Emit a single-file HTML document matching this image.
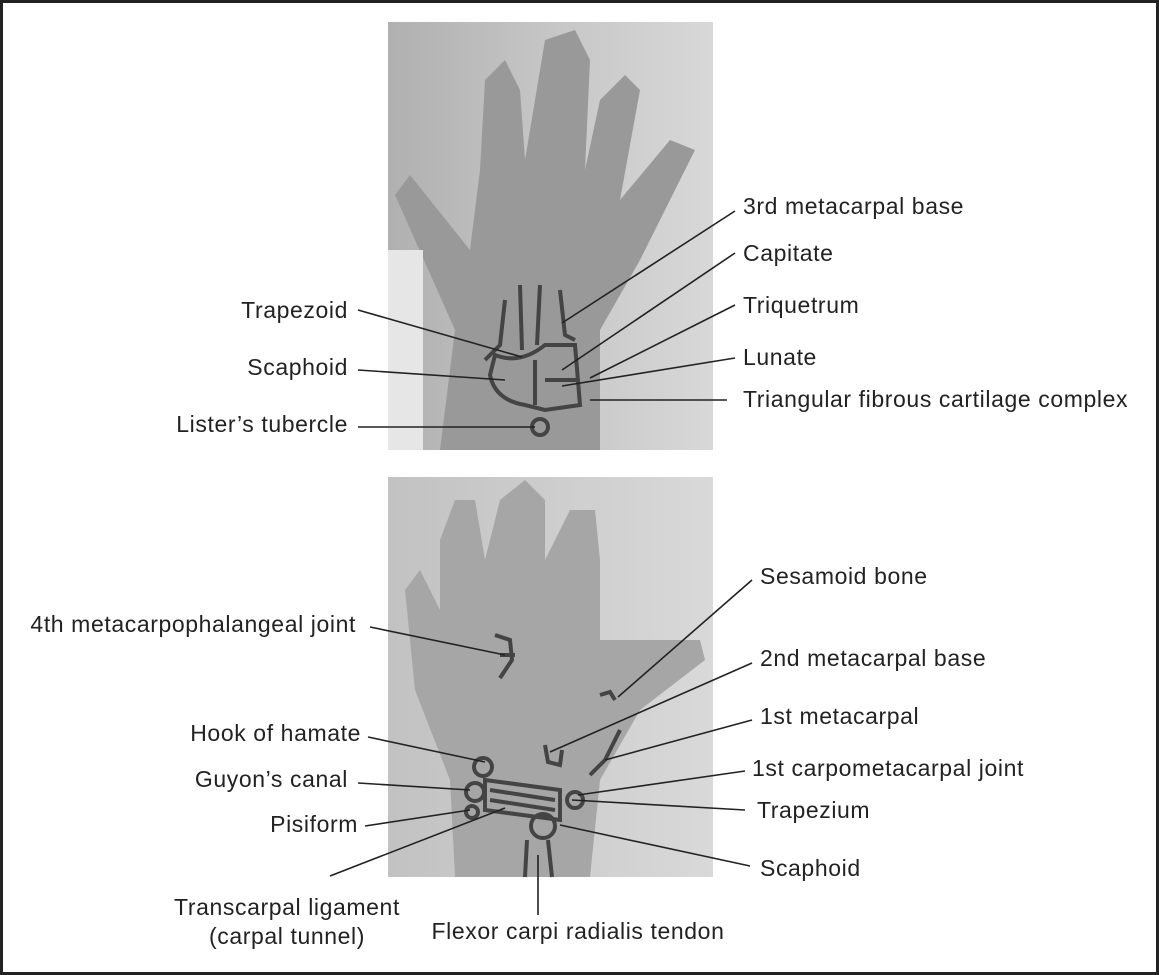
<!DOCTYPE html>
<html><head><style>
html,body{margin:0;padding:0;background:#fff;}
svg{display:block;}
text{font-family:"Liberation Sans",Arial,sans-serif;font-size:23px;letter-spacing:0.6px;fill:#222;}
</style></head><body>
<svg width="1159" height="975" viewBox="0 0 1159 975">
<rect x="1.5" y="1.5" width="1156" height="972" fill="#fff" stroke="#222" stroke-width="3"/>
<defs>
<linearGradient id="g1" x1="0" y1="0" x2="1" y2="0">
<stop offset="0" stop-color="#b0b0b0"/><stop offset="0.5" stop-color="#c6c6c6"/><stop offset="1" stop-color="#d8d8d8"/></linearGradient>
<linearGradient id="g2" x1="0" y1="0" x2="1" y2="0">
<stop offset="0" stop-color="#c2c2c2"/><stop offset="0.5" stop-color="#cdcdcd"/><stop offset="1" stop-color="#d9d9d9"/></linearGradient>
</defs>
<rect x="388" y="22" width="325" height="428" fill="url(#g1)"/>
<g fill="#999">
<path d="M440 450 L455 330 L395 195 L410 175 L470 250 L480 170 L485 80 L505 60 L520 90 L525 160 L545 40 L575 30 L590 60 L585 170 L600 100 L625 75 L640 90 L620 200 L670 140 L695 150 L640 260 L600 330 L600 450 Z"/>
</g>
<rect x="388" y="250" width="35" height="200" fill="#e6e6e6"/>
<g fill="none" stroke="#444" stroke-width="4">
<path d="M505 300 L500 345 L485 360 M520 285 L522 350 M540 285 L537 345 M560 290 L565 335 L575 340"/>
<path d="M495 355 Q520 365 545 345 L575 345 L580 405 L545 410 L525 405 Q495 400 490 375 Z"/>
<path d="M535 360 L535 405 M545 380 L578 380"/>
<circle cx="540" cy="427" r="8"/>
</g>
<rect x="388" y="477" width="325" height="400" fill="url(#g2)"/>
<g fill="#a6a6a6">
<path d="M455 877 L450 780 L415 690 L405 590 L420 570 L440 610 L440 540 L455 500 L475 500 L485 560 L500 500 L525 480 L545 500 L545 560 L570 510 L595 510 L600 560 L600 640 L660 640 L700 640 L705 660 L640 710 L600 780 L590 877 Z"/>
</g>
<g fill="none" stroke="#444" stroke-width="4">
<path d="M495 635 L510 640 L512 660 L500 678 M500 655 L515 655"/>
<path d="M545 745 L548 762 L560 765 L562 750"/>
<path d="M600 695 L610 692 L615 700 M620 730 L605 760 L590 775"/>
<circle cx="483" cy="767" r="9"/><circle cx="475" cy="792" r="9"/><circle cx="472" cy="812" r="6"/>
<path d="M485 780 L560 790 L560 820 L485 810 Z"/>
<path d="M490 790 L555 800 M490 800 L555 810"/>
<circle cx="543" cy="826" r="12"/><circle cx="575" cy="800" r="8"/>
<path d="M527 840 L525 877 M548 840 L552 877"/>
</g>
<g stroke="#222" stroke-width="1.6" fill="none">
<line x1="735" y1="211" x2="562" y2="323"/>
<line x1="735" y1="253" x2="562" y2="370"/>
<line x1="735" y1="305" x2="590" y2="378"/>
<line x1="735" y1="358" x2="562" y2="386"/>
<line x1="727" y1="400" x2="590" y2="400"/>
<line x1="358" y1="310" x2="522" y2="357"/>
<line x1="358" y1="370" x2="505" y2="380"/>
<line x1="358" y1="427" x2="535" y2="427"/>
<line x1="752" y1="580" x2="618" y2="697"/>
<line x1="370" y1="627" x2="505" y2="655"/>
<line x1="752" y1="663" x2="550" y2="752"/>
<line x1="752" y1="720" x2="605" y2="760"/>
<line x1="745" y1="771" x2="578" y2="795"/>
<line x1="745" y1="810" x2="572" y2="800"/>
<line x1="750" y1="866" x2="560" y2="825"/>
<line x1="368" y1="737" x2="485" y2="762"/>
<line x1="358" y1="783" x2="470" y2="790"/>
<line x1="365" y1="826" x2="470" y2="810"/>
<line x1="330" y1="876" x2="505" y2="808"/>
<line x1="538" y1="915" x2="538" y2="855"/>
</g>
<g>
<text x="743" y="214">3rd metacarpal base</text>
<text x="743" y="261">Capitate</text>
<text x="743" y="313">Triquetrum</text>
<text x="743" y="365">Lunate</text>
<text x="743" y="407">Triangular fibrous cartilage complex</text>
<text x="348" y="318" text-anchor="end">Trapezoid</text>
<text x="348" y="375" text-anchor="end">Scaphoid</text>
<text x="348" y="432" text-anchor="end">Lister’s tubercle</text>
<text x="760" y="584">Sesamoid bone</text>
<text x="356" y="632" text-anchor="end">4th metacarpophalangeal joint</text>
<text x="760" y="666">2nd metacarpal base</text>
<text x="760" y="724">1st metacarpal</text>
<text x="752" y="776">1st carpometacarpal joint</text>
<text x="757" y="818">Trapezium</text>
<text x="760" y="876">Scaphoid</text>
<text x="361" y="741" text-anchor="end">Hook of hamate</text>
<text x="348" y="787" text-anchor="end">Guyon’s canal</text>
<text x="358" y="832" text-anchor="end">Pisiform</text>
<text x="287" y="915" text-anchor="middle">Transcarpal ligament</text>
<text x="287" y="944" text-anchor="middle">(carpal tunnel)</text>
<text x="578" y="939" text-anchor="middle">Flexor carpi radialis tendon</text>
</g>
</svg>
</body></html>
